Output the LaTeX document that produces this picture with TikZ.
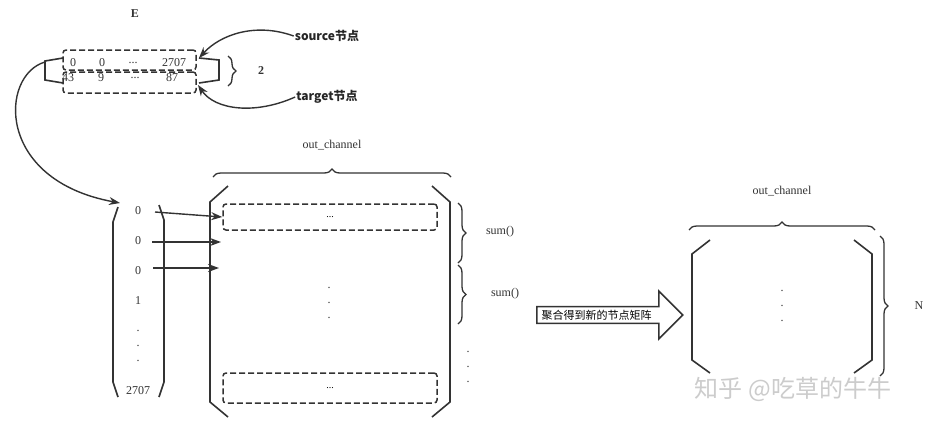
\documentclass[tikz,border=0pt]{standalone}
\usepackage{fontspec}
\setmainfont{Liberation Serif}
\newfontfamily\cjk{Noto Sans CJK SC}
\usetikzlibrary{arrows.meta,decorations.pathreplacing,shapes.arrows}
\begin{document}
\begin{tikzpicture}[x=1pt,y=-1pt,
  ln/.style={line width=1.6pt,color=black!80},
  dbox/.style={draw=black!80,line width=1.5pt,dash pattern=on 6pt off 3pt,rounded corners=3pt},
  arr/.style={line width=1.4pt,color=black!80,-{Stealth[length=11pt,width=8pt]}},
  br/.style={decorate,decoration={brace,amplitude=8pt},line width=1.3pt,color=black!80},
  t/.style={font=\fontsize{12}{12}\selectfont,text=black!80,inner sep=1pt},
  b/.style={font=\bfseries\fontsize{12}{12}\selectfont\cjk,text=black!85,inner sep=1pt}]
\useasboundingbox[fill=white] (0,0) rectangle (932,429);
\def\dd{...}
% E
\node[t,font=\bfseries\fontsize{12}{12}\selectfont] (E) at (135,14) {E};
\node[dbox,minimum width=133pt,minimum height=20pt] (r1) at (129.5,60) {};
\node[dbox,minimum width=133pt,minimum height=21pt] (r2) at (129.5,82.5) {};
\node[t] (ua) at (73,63) {0};
\node[t] (ub) at (102,63) {0};
\node[t] (uc) at (133,63) {\dd};
\node[t] (ud) at (174,63) {2707};
\node[t] (la) at (68,78) {43};
\node[t] (lb) at (101,78) {9};
\node[t] (lc) at (135,78) {\dd};
\node[t] (ld) at (172,78) {87};
\draw[ln] (63,58) -- (45,61) -- (45,80) -- (63,83);
\draw[ln] (199,58) -- (219,60) -- (219,80) -- (199,83);
\draw[br] (228,56) -- (228,86);
\node[t,font=\bfseries\fontsize{12}{12}\selectfont] (two) at (261,71) {2};
\node[b] (src) at (327,36) {source节点};
\node[b] (tgt) at (327,97) {target节点};
\coordinate (s1) at (199,58);
\coordinate (t1) at (198,85);
\draw[arr] (src.west) .. controls (255,22) and (220,35) .. (s1);
\draw[arr] (tgt.west) .. controls (255,115) and (215,110) .. (t1);
\coordinate (c0) at (45,62);
\coordinate (c1) at (120,203);
\draw[arr] (c0) .. controls (0,75) and (-5,180) .. (c1);
% index vector
\draw[ln] (118,207) -- (113,222) -- (113,382) -- (118,397);
\draw[ln] (159,205) -- (164,220) -- (164,382) -- (159,397);
\node[t] (va) at (138,211) {0};
\node[t] (vb) at (138,241) {0};
\node[t] (vc) at (138,271) {0};
\node[t] (vd) at (138,301) {1};
\node[t] (ve) at (138,391) {2707};
\foreach \y in {331,346,361}{\node[t] at (138,\y) {.};}
% matrix
\draw[ln] (228,186) -- (210,202) -- (210,402) -- (228,417);
\draw[ln] (432,186) -- (450,202) -- (450,402) -- (432,417);
\draw[br] (213,177) -- (451,177);
\node[t] (oc1) at (332,145) {out\_channel};
\node[dbox,minimum width=214pt,minimum height=26pt] (m1) at (330,217) {\fontsize{10}{10}\selectfont\dd};
\node[dbox,minimum width=214pt,minimum height=30pt] (m2) at (330,388) {\fontsize{10}{10}\selectfont\dd};
\foreach \y in {288,303,318}{\node[t] at (329,\y) {.};}
\coordinate (q1) at (155,212);
\coordinate (q2) at (152,242);
\coordinate (q3) at (153,268);
\coordinate (p2) at (221,242);
\coordinate (p3) at (219,268);
\draw[arr] (q1) -- (m1.west);
\draw[arr] (q2) -- (p2);
\draw[arr] (q3) -- (p3);
\draw[br] (458,203) -- (458,263);
\draw[br] (458,265) -- (458,324);
\node[t] (sum1) at (500,232) {sum()};
\node[t] (sum2) at (505,294) {sum()};
\foreach \y in {352,367,382}{\node[t] at (468,\y) {.};}
% big arrow
\node[single arrow,draw=black!80,line width=1.5pt,fill=white,minimum height=146pt,minimum width=48pt,single arrow head extend=13pt,single arrow tip angle=90,inner sep=1pt,font=\cjk\fontsize{11}{11}\selectfont,anchor=west] (ba) at (536,315) {\hspace*{-18pt}聚合得到新的节点矩阵};
% right matrix
\draw[ln] (710,240) -- (692,254) -- (692,360) -- (710,373);
\draw[ln] (854,240) -- (872,254) -- (872,360) -- (854,373);
\draw[br] (689,230) -- (875,230);
\node[t] (oc2) at (782,191) {out\_channel};
\foreach \y in {291,306,321}{\node[t] at (782,\y) {.};}
\draw[br] (880,236) -- (880,376);
\node[t] (N) at (919,306) {N};
\node[font=\cjk\fontsize{24}{24}\selectfont,text=black!20] (wm) at (793,389) {知乎 @吃草的牛牛};
\end{tikzpicture}
\end{document}
